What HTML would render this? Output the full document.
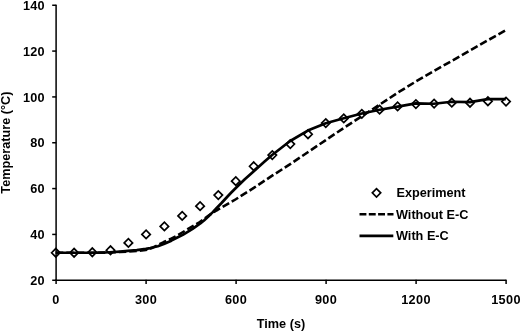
<!DOCTYPE html>
<html><head><meta charset="utf-8"><title>Temperature vs Time</title>
<style>
html,body{margin:0;padding:0;background:#fff;}
body{width:520px;height:331px;overflow:hidden;}
svg{display:block;}
text{font-family:"Liberation Sans",Arial,sans-serif;font-weight:bold;font-size:12.7px;fill:#000;}
.tk{letter-spacing:0.35px;}
.ty{letter-spacing:0.2px;}
</style></head><body>
<svg width="520" height="331" viewBox="0 0 520 331">
<rect width="520" height="331" fill="#fff"/>
<g transform="translate(0.3,0.25)">
<g stroke="#000" stroke-width="1.5" fill="none">
<line x1="55.8" y1="4.5" x2="55.8" y2="280.5"/>
<line x1="55" y1="280" x2="506" y2="280"/>
<line x1="51.9" y1="280.00" x2="56" y2="280.00"/>
<line x1="51.9" y1="234.17" x2="56" y2="234.17"/>
<line x1="51.9" y1="188.33" x2="56" y2="188.33"/>
<line x1="51.9" y1="142.50" x2="56" y2="142.50"/>
<line x1="51.9" y1="96.67" x2="56" y2="96.67"/>
<line x1="51.9" y1="50.83" x2="56" y2="50.83"/>
<line x1="51.9" y1="5.00" x2="56" y2="5.00"/>
<line x1="55.80" y1="279.5" x2="55.80" y2="283.8"/>
<line x1="145.80" y1="279.5" x2="145.80" y2="283.8"/>
<line x1="235.80" y1="279.5" x2="235.80" y2="283.8"/>
<line x1="325.80" y1="279.5" x2="325.80" y2="283.8"/>
<line x1="415.80" y1="279.5" x2="415.80" y2="283.8"/>
<line x1="505.80" y1="279.5" x2="505.80" y2="283.8"/>
</g></g>
<text class="ty" x="44.7" y="284.9" text-anchor="end">20</text>
<text class="ty" x="44.7" y="239.1" text-anchor="end">40</text>
<text class="ty" x="44.7" y="193.2" text-anchor="end">60</text>
<text class="ty" x="44.7" y="147.4" text-anchor="end">80</text>
<text class="ty" x="44.7" y="101.6" text-anchor="end">100</text>
<text class="ty" x="44.7" y="55.7" text-anchor="end">120</text>
<text class="ty" x="44.7" y="9.9" text-anchor="end">140</text>
<text class="tk" x="56.0" y="304.3" text-anchor="middle">0</text>
<text class="tk" x="146.0" y="304.3" text-anchor="middle">300</text>
<text class="tk" x="236.0" y="304.3" text-anchor="middle">600</text>
<text class="tk" x="326.0" y="304.3" text-anchor="middle">900</text>
<text class="tk" x="416.0" y="304.3" text-anchor="middle">1200</text>
<text class="tk" x="506.0" y="304.3" text-anchor="middle">1500</text>
<text x="281" y="327.5" text-anchor="middle">Time (s)</text>
<text transform="translate(10.4,142.6) rotate(-90)" text-anchor="middle">Temperature (°C)</text>
<g transform="translate(0.3,0.25)">
<polyline points="55.5,252.5 91.5,252.5 109.5,252.3 120.0,251.7 127.5,251.3 136.5,250.8 145.5,249.8 151.5,247.8 157.5,244.8 163.5,241.8 170.0,238.8 176.0,235.7 181.5,232.5 190.0,227.4 199.5,221.8 208.0,215.5 215.0,210.8 217.5,209.5 235.5,199.0 253.5,187.6 271.5,175.7 289.5,164.2 307.5,152.0 325.5,139.8 343.5,127.7 361.5,116.0 379.5,104.3 397.5,92.4 415.5,81.3 433.5,70.9 451.5,60.6 469.5,50.3 487.5,40.1 505.5,30.0" fill="none" stroke="#000" stroke-width="2.6" stroke-dasharray="7.5 3" stroke-linejoin="round"/>
<polyline points="55.5,252.5 91.5,252.5 100.0,252.3 109.5,252.0 120.0,251.3 127.5,250.7 136.5,249.8 145.5,248.6 150.0,247.8 157.5,246.0 163.5,243.8 171.0,240.4 176.0,237.8 182.5,234.6 192.3,228.6 200.0,223.2 203.7,220.2 208.0,216.3 212.5,211.9 216.4,207.7 221.0,203.0 227.0,196.5 231.0,192.3 238.3,185.0 244.5,179.0 253.5,171.0 264.0,161.6 271.5,155.0 289.5,141.0 307.5,130.3 325.5,123.0 343.5,118.0 361.5,113.3 379.5,109.5 397.5,106.3 415.5,103.2 433.5,103.5 451.5,101.5 469.5,101.9 487.5,98.9 505.5,98.9" fill="none" stroke="#000" stroke-width="2.7" stroke-linejoin="round"/>
<g fill="none" stroke="#000" stroke-width="1.7">
<path d="M51.3 252.5L55.5 248.3L59.7 252.5L55.5 256.7Z"/>
<path d="M69.6 252.5L73.8 248.3L78.0 252.5L73.8 256.7Z"/>
<path d="M87.8 252.0L92.0 247.8L96.2 252.0L92.0 256.2Z"/>
<path d="M106.0 250.0L110.2 245.8L114.4 250.0L110.2 254.2Z"/>
<path d="M123.9 242.7L128.1 238.5L132.3 242.7L128.1 246.9Z"/>
<path d="M141.6 234.2L145.8 230.0L150.0 234.2L145.8 238.4Z"/>
<path d="M159.9 226.2L164.1 222.0L168.3 226.2L164.1 230.4Z"/>
<path d="M177.7 215.7L181.9 211.5L186.1 215.7L181.9 219.9Z"/>
<path d="M195.6 205.9L199.8 201.7L204.0 205.9L199.8 210.1Z"/>
<path d="M213.8 194.8L218.0 190.6L222.2 194.8L218.0 199.0Z"/>
<path d="M231.3 180.9L235.5 176.7L239.7 180.9L235.5 185.1Z"/>
<path d="M249.2 166.0L253.4 161.8L257.6 166.0L253.4 170.2Z"/>
<path d="M267.8 154.8L272.0 150.6L276.2 154.8L272.0 159.0Z"/>
<path d="M285.8 143.8L290.0 139.6L294.2 143.8L290.0 148.0Z"/>
<path d="M303.5 134.0L307.7 129.8L311.9 134.0L307.7 138.2Z"/>
<path d="M321.3 122.8L325.5 118.6L329.7 122.8L325.5 127.0Z"/>
<path d="M339.3 118.2L343.5 114.0L347.7 118.2L343.5 122.4Z"/>
<path d="M357.3 113.6L361.5 109.4L365.7 113.6L361.5 117.8Z"/>
<path d="M375.1 109.4L379.3 105.2L383.5 109.4L379.3 113.6Z"/>
<path d="M393.1 106.2L397.3 102.0L401.5 106.2L397.3 110.4Z"/>
<path d="M411.4 103.8L415.6 99.6L419.8 103.8L415.6 108.0Z"/>
<path d="M429.6 103.3L433.8 99.1L438.0 103.3L433.8 107.5Z"/>
<path d="M447.3 102.4L451.5 98.2L455.7 102.4L451.5 106.6Z"/>
<path d="M465.5 102.5L469.7 98.3L473.9 102.5L469.7 106.7Z"/>
<path d="M483.4 101.0L487.6 96.8L491.8 101.0L487.6 105.2Z"/>
<path d="M501.5 101.3L505.7 97.1L509.9 101.3L505.7 105.5Z"/>
</g></g>
<g fill="none" stroke="#000" stroke-width="1.7">
<path d="M372.3 192.8L376.5 188.6L380.7 192.8L376.5 197.0Z"/>
</g>
<line x1="359.5" y1="214.3" x2="393.5" y2="214.3" stroke="#000" stroke-width="2.6" stroke-dasharray="6.9 2.4"/>
<line x1="359.5" y1="235.8" x2="393.3" y2="235.9" stroke="#000" stroke-width="2.8"/>
<text x="396.5" y="197.1">Experiment</text>
<text x="396" y="218.8">Without E-C</text>
<text x="396" y="240.3">With E-C</text>
</svg></body></html>
